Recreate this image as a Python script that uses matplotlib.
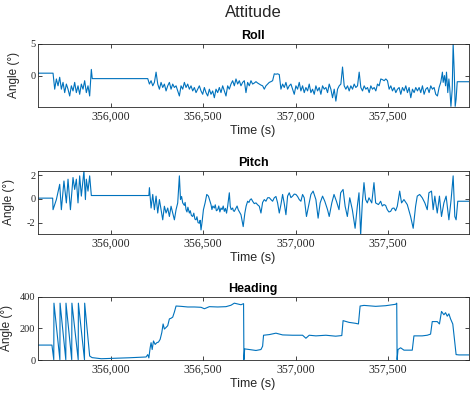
import matplotlib
matplotlib.use('Agg')
import matplotlib.pyplot as plt
import numpy as np
from matplotlib.ticker import FuncFormatter

# ---- data ----
# roll: flat start, first noisy burst (9 s sampling), hold, long noisy run (9 s sampling), end burst
roll_start_t = [355605, 355689]
roll_start_v = [0.42, 0.42]
roll_a_t0 = 355698
roll_a = [-2.05, -0.47, -1.53, -0.21, -2.05, -1.0, -2.58, -1.26, -2.05, -3.1,
          -1.53, -2.32, -1.0, -2.58, -1.53, -2.84, -1.26, -2.05, -0.74, -2.58,
          -1.53, -3.1, 1.0]
roll_hold_t = [355901, 356201]
roll_hold_v = [-0.42, -0.42]
roll_b_t0 = 356210
roll_b = [-1.26, -0.74, -1.53, -1.0, 0.58, -1.26, -2.05, -1.0, -1.79, -1.26,
          -2.32, -1.53, -1.0, -2.05, -1.26, -1.79, -1.53, -2.32, -3.1, -1.53,
          -2.05, -1.0, -1.79, -1.26, -2.05, -1.53, -2.32, -1.79, -2.58, -2.05,
          -1.53, -2.32, -2.84, -1.79, -2.58, -3.1, -2.05, -2.84, -2.32, -3.37,
          -2.05, -2.58, -1.79, -2.58, -1.53, -2.32, -3.1, -1.53, -2.05, -1.26,
          -0.74, -1.53, -0.47, -1.26, -0.74, -1.53, -1.0, -0.74, -2.58, -1.0,
          -1.53, -0.74, -1.26,
          -1.1, -0.89, -1.1, -1.26, -1.42, -1.53, -2.05, -1.53, -1.26, -1.0,
          -0.89, -0.74, 0.32, 0.26, 0.32, 0.21, -2.05, -1.26, -1.79, -1.0,
          -2.05, -1.53, -1.26, -2.05, -2.84, -1.53, -2.05, -1.0, -2.32, -1.53,
          -2.58, -1.79, -2.32, -1.26, -2.58, -2.05, -2.84, -1.53, -2.32, -1.79,
          -2.84, -1.53, -2.05, -1.79, -2.58, -1.26, -2.05, -3.37, -2.05, -3.89,
          -2.05, -1.53, -1.26, 1.37, -1.53, -2.05, -1.53, -2.32, -1.53, -2.05,
          -1.26, -1.79, -1.53, 0.58, -1.79, -2.32, -1.53, -2.05, -1.79, -2.58,
          -1.53, -2.05, -1.79, -2.32, -1.26, -1.53, -0.47, -0.58, -0.74, -0.47,
          -0.74, -2.05, -1.53, -2.32, -1.79, -2.58, -2.05, -1.79, -2.84, -1.79,
          -2.32, -1.53, -2.58, -1.79, -3.37, -2.05, -2.58, -1.79, -2.32, -1.79,
          -2.58, -1.53, -2.84, -2.05, -1.79, -2.58, -1.53, -2.05, -1.79, -2.84,
          -3.1, -1.79, -1.0, 0.58]
roll_end_t = [357798, 357805, 357811, 357816, 357823, 357829, 357834, 357840,
              357847, 357852, 357858, 357863, 357868, 357874, 357935]
roll_end_v = [-1.0, 0.05, -1.53, 0.58, -2.58, -0.47, -2.05, -4.7,
              -2.05, 5.0, 0.58, -4.7, -3.6, -0.9, -0.9]

pitch_t = [355605, 355687, 355689, 355707, 355725, 355734, 355748, 355761,
           355770, 355783, 355797, 355806, 355815, 355824, 355833, 355842,
           355856, 355864, 355869, 355878, 355887, 355896, 356207,
           356210, 356219, 356228, 356237, 356246, 356255, 356264, 356273,
           356282, 356291, 356300, 356309, 356318, 356327, 356336, 356345,
           356354, 356363, 356372, 356378, 356390, 356408, 356426, 356444,
           356462, 356480, 356489, 356495, 356502, 356511, 356520, 356529,
           356543, 356561, 356579, 356597, 356615, 356633, 356642, 356647,
           356660, 356669, 356678, 356690, 356705, 356717, 356726, 356741,
           356755, 356768,
           356786, 356804, 356813, 356831, 356849, 356867, 356885, 356903,
           356912, 356921, 356930, 356948, 356957, 356966, 356984, 357002,
           357020, 357038, 357047, 357059, 357070, 357083, 357095, 357110,
           357122, 357133, 357146, 357158, 357173, 357182, 357196, 357208,
           357221, 357235, 357244, 357257, 357268, 357280, 357293, 357307,
           357322, 357334, 357343, 357352, 357361, 357370, 357379, 357388,
           357397, 357412, 357424, 357433, 357448, 357460, 357478, 357496,
           357514, 357532, 357550, 357563, 357573, 357586, 357604, 357622,
           357636, 357649, 357658, 357671, 357685, 357699, 357712, 357721,
           357735, 357744, 357753, 357766, 357778, 357789, 357802, 357814,
           357829, 357841, 357852, 357861, 357868, 357877, 357935]
pitch_v = [0.06, 0.06, -0.91, -0.06, 1.22, -0.91, 1.50, -0.34,
           1.65, -0.91, 1.79, 0.79, 1.65, -0.34, 1.93, 0.23,
           2.35, -0.06, 1.65, 0.65, 1.93, 0.28, 0.28,
           0.94, -0.77, 0.37, -0.91, 0.23, -1.19, -0.06, -0.91,
           -1.76, -0.62, -1.19, -0.77, -1.48, -0.62, -1.19, -1.76,
           -0.91, -0.34, 1.93, -0.06, -0.34, -0.91, -1.19, -1.48,
           -1.76, -2.04, -2.61, -1.90, -0.91, -0.34, 0.37, 0.23,
           -0.48, -0.77, -0.91, -0.77, -1.05, -0.62, 0.51, -0.62,
           -0.77, -1.05, -0.77, -0.91, -1.33, -2.33, -1.19, -0.20,
           -0.06, -0.20,
           -0.34, -0.62, -1.19, -0.06, 0.09, -0.06, 0.09, -0.34,
           -1.19, -0.48, 0.37, -1.33, 0.23, 0.51, 0.23, 0.37,
           -0.06, 0.37, 0.09, -1.48, -0.62, 0.37, 0.65, -0.06,
           -1.62, -0.34, 0.23, -0.20, -0.91, -1.48, -0.34, 0.37,
           -0.20, -0.91, 0.51, 0.79, -0.62, -1.48, 0.09, -0.91,
           -2.47, -0.62, 0.51, -3.04, -0.34, 1.36, -0.06, -0.34,
           0.09, -0.34, 1.36, -0.34, -0.48, -0.20, -0.48, -0.91,
           -1.05, -0.77, -0.62, 0.65, -0.34, -0.06, -0.48, -1.48,
           -2.47, -0.62, 0.23, 0.37, 0.09, -0.34, -0.91, 0.51,
           0.65, -0.91, 0.23, -1.19, 0.23, -1.48, -0.34, 0.23,
           -1.76, -0.06, 1.93, -1.48, -1.76, -0.20, -0.20]
# extra small wiggles seen between the main pitch points
pitch_extra_t = [356384, 356399, 356403, 356413, 356418, 356431, 356437, 356450,
                 356456, 356467, 356473, 356484, 356548, 356553, 356566, 356572,
                 356585, 356591, 356603, 356609, 356621, 356627, 356652, 356664,
                 356684, 356697, 356733, 356748, 356761, 356777, 356795, 356822,
                 356840, 356858, 356876, 356894, 356939, 356975, 356993, 357011,
                 357029, 357454, 357469, 357487, 357505, 357523, 357541]
pitch_extra_v = [0.2, -0.55, -0.3, -1.1, -0.7, -1.0, -1.4, -1.2,
                 -1.7, -1.5, -2.0, -1.8, -0.9, -0.6, -0.5, -1.0,
                 -0.6, -1.1, -0.9, -0.6, -0.8, -1.2, -0.9, -1.0,
                 -0.6, -1.1, -0.6, -0.3, 0.0, -0.4, -0.5, -0.3,
                 -0.2, 0.1, -0.2, 0.2, -0.4, 0.1, 0.4, 0.2,
                 -0.2, -0.35, -0.6, -0.55, -1.1, -0.8, -1.0]

heading_t = [355605, 355683, 355693, 355694, 355726, 355727, 355758, 355759,
             355790, 355791, 355825, 355826, 355859, 355860, 355887, 355900,
             355950, 356000, 356100, 356192, 356201, 356207, 356214, 356219,
             356225, 356232, 356241, 356250, 356259, 356268, 356277, 356284,
             356291, 356300, 356309, 356318, 356327, 356336, 356345, 356354,
             356381, 356417, 356453, 356489, 356507, 356516, 356534, 356579,
             356624, 356651, 356669, 356687, 356705, 356719, 356721, 356725,
             356750, 356786, 356813, 356822, 356827, 356858, 356894, 356930,
             356984, 357038, 357056, 357074, 357110, 357164, 357217, 357250,
             357257, 357289, 357325, 357340, 357349, 357370, 357433, 357487,
             357541, 357547, 357549, 357554, 357568, 357586, 357631, 357640,
             357685, 357712, 357730, 357739, 357766, 357778, 357789, 357802,
             357811, 357820, 357829, 357838, 357850, 357859, 357868, 357883,
             357935]
heading_v = [94, 94, 2, 358, 2, 358, 2, 358,
             2, 358, 2, 358, 2, 358, 25, 15,
             8, 10, 14, 19, 34, 13, 77, 109,
             66, 120, 98, 109, 113, 130, 173, 227,
             195, 205, 216, 259, 263, 270, 302, 340,
             338, 334, 334, 332, 323, 327, 336, 334,
             336, 345, 358, 353, 348, 355, 2, 70,
             66, 60, 66, 87, 156, 160, 169, 158,
             156, 156, 137, 156, 152, 156, 150, 154,
             248, 237, 231, 227, 340, 344, 338, 342,
             351, 358, 2, 66, 77, 62, 62, 152,
             152, 156, 163, 242, 242, 227, 306, 285,
             298, 276, 291, 259, 227, 131, 34, 32,
             32]

x_range = (355605, 357935)
roll_ylim = (-4.8, 5.0)
pitch_ylim = (-2.95, 2.38)
heading_ylim = (0, 400)

# ---- assemble ----
roll_t = np.concatenate([roll_start_t,
                         roll_a_t0 + 9 * np.arange(len(roll_a)),
                         roll_hold_t,
                         roll_b_t0 + 9 * np.arange(len(roll_b)),
                         roll_end_t])
roll_v = np.concatenate([roll_start_v, roll_a, roll_hold_v, roll_b, roll_end_v])

p_t = np.concatenate([pitch_t, pitch_extra_t])
p_v = np.concatenate([pitch_v, pitch_extra_v])
order = np.argsort(p_t, kind='stable')
p_t, p_v = p_t[order], p_v[order]

plt.rcParams['font.family'] = 'Liberation Serif'
plt.rcParams['axes.unicode_minus'] = False
sans = 'Liberation Sans'
line_color = '#0072BD'
dark = '#262626'

fig = plt.figure(figsize=(4.74, 3.96), dpi=100)
fig.text(0.534, 0.969, 'Attitude', family=sans, fontsize=12, ha='center', va='center', color=dark)

left = 37.5 / 474
width = 431 / 474
# name, t, v, ylim, yticks, top edge (px), ylabel x (axes fraction)
panels = [
    ('Roll', roll_t, roll_v, roll_ylim, [0, 5], 43.5, -0.040),
    ('Pitch', p_t, p_v, pitch_ylim, [-2, 0, 2], 170.5, -0.052),
    ('Heading', np.array(heading_t), np.array(heading_v), heading_ylim, [0, 200, 400], 296.5, -0.058),
]
for name, t, v, ylim, yt, top_px, ylab_x in panels:
    h = 63.5 / 396
    ax = fig.add_axes([left, 1 - (top_px + 63.5) / 396, width, h])
    ax.plot(t, v, color=line_color, lw=0.8)
    ax.set_xlim(*x_range)
    ax.set_ylim(*ylim)
    ax.set_yticks(yt)
    ax.set_xticks([356000, 356500, 357000, 357500])
    ax.xaxis.set_major_formatter(FuncFormatter(lambda x, p: '{:,.0f}'.format(x)))
    ax.tick_params(direction='in', length=3, width=0.6, colors=dark, top=True, right=True)
    ax.tick_params(axis='x', labelsize=8.5, pad=3)
    ax.tick_params(axis='y', labelsize=7.5, pad=1.5)
    for s in ax.spines.values():
        s.set_color(dark)
        s.set_linewidth(0.6)
    ax.set_title(name, family=sans, fontsize=9, fontweight='bold', color='black', pad=3)
    ax.set_xlabel('Time (s)', family=sans, fontsize=9, color=dark, labelpad=1)
    ax.set_ylabel('Angle (°)', family=sans, fontsize=8.5, color=dark)
    ax.yaxis.set_label_coords(ylab_x, 0.5)

fig.savefig('out.png', dpi=100)
